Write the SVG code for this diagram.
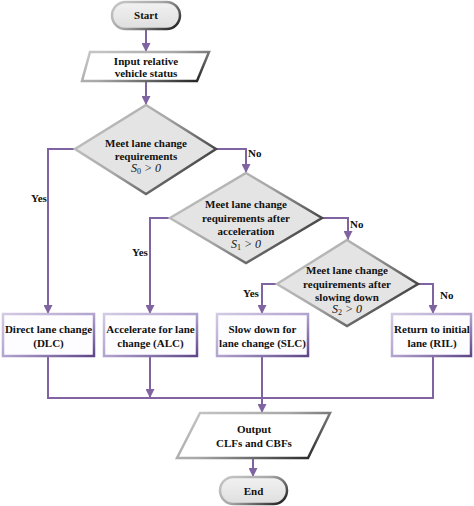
<svg xmlns="http://www.w3.org/2000/svg" width="474" height="506" viewBox="0 0 474 506">
<defs>
  <linearGradient id="gGray" x1="0" y1="0.2" x2="1" y2="0.8">
    <stop offset="0" stop-color="#c4c4c4"/>
    <stop offset="0.45" stop-color="#a8a8a8"/>
    <stop offset="1" stop-color="#2a2a2a"/>
  </linearGradient>
  <linearGradient id="gPurple" x1="0" y1="0" x2="1" y2="1">
    <stop offset="0" stop-color="#d3cae3"/>
    <stop offset="0.5" stop-color="#b3a4cf"/>
    <stop offset="1" stop-color="#5e4687"/>
  </linearGradient>
  <linearGradient id="gFill" x1="0" y1="0" x2="0" y2="1">
    <stop offset="0" stop-color="#f2f2f2"/>
    <stop offset="1" stop-color="#dedede"/>
  </linearGradient>
  <marker id="arr" markerUnits="userSpaceOnUse" markerWidth="9" markerHeight="9" refX="9" refY="4.5" orient="auto">
    <path d="M0,0 L9,4.5 L0,9 z" fill="#8064a2"/>
  </marker>
</defs>
<style>
  text { font-family: "Liberation Serif", "Times New Roman", serif; font-weight: bold; font-size: 11px; fill: #111; text-anchor: middle; }
  .lbl { text-anchor: start; }
  .term { fill: url(#gFill); stroke: url(#gGray); stroke-width: 2.5; }
  .dia { fill: #e4e4e4; stroke: url(#gGray); stroke-width: 2.5; }
  .para { fill: #ffffff; stroke: url(#gGray); stroke-width: 2.5; }
  .box { fill: #fdfcff; stroke: url(#gPurple); stroke-width: 2.5; }
  .con { fill: none; stroke: #8064a2; stroke-width: 2; }
  .math { font-style: italic; font-weight: normal; font-size: 12px; }
  .sub { font-style: normal; font-weight: normal; font-size: 8px; }
</style>

<g id="connectors">
  <path class="con" d="M146,29 V52" marker-end="url(#arr)"/>
  <path class="con" d="M146,81 V105" marker-end="url(#arr)"/>
  <path class="con" d="M75,149 H48 V314" marker-end="url(#arr)"/>
  <path class="con" d="M216,149 H246 V173" marker-end="url(#arr)"/>
  <path class="con" d="M170,218 H150 V314" marker-end="url(#arr)"/>
  <path class="con" d="M322,218 H348 V240" marker-end="url(#arr)"/>
  <path class="con" d="M277,284 H262 V314" marker-end="url(#arr)"/>
  <path class="con" d="M418,284 H433 V314" marker-end="url(#arr)"/>
  <path class="con" d="M48,356 V398 H433 V356"/>
  <path class="con" d="M150,356 V398" marker-end="url(#arr)"/>
  <path class="con" d="M262,356 V413" marker-end="url(#arr)"/>
  <path class="con" d="M253,458 V477" marker-end="url(#arr)"/>
  <text class="lbl" x="31" y="202">Yes</text>
  <text class="lbl" x="248" y="157">No</text>
  <text class="lbl" x="132" y="256">Yes</text>
  <text class="lbl" x="350" y="228">No</text>
  <text class="lbl" x="243" y="297">Yes</text>
  <text class="lbl" x="440" y="299">No</text>
</g>

<g id="start">
  <rect class="term" x="112" y="2" width="68" height="27" rx="13.5"/>
  <text x="146" y="19">Start</text>
</g>

<g id="input">
  <polygon class="para" points="90,52 209,52 197,81 82,81"/>
  <text x="146" y="65">Input relative</text>
  <text x="146" y="77">vehicle status</text>
</g>

<g id="decision1">
  <polygon class="dia" points="146,105 216,149 146,194 75,149"/>
  <text x="146" y="147">Meet lane change</text>
  <text x="146" y="160">requirements</text>
  <text x="146" y="172"><tspan class="math">S</tspan><tspan class="sub" dy="2">0</tspan><tspan class="math" dy="-2"> &gt; </tspan><tspan class="math" font-style="normal">0</tspan></text>
</g>

<g id="decision2">
  <polygon class="dia" points="246,173 322,218 246,263 170,218"/>
  <text x="246" y="208">Meet lane change</text>
  <text x="246" y="222">requirements after</text>
  <text x="246" y="235">acceleration</text>
  <text x="246" y="248"><tspan class="math">S</tspan><tspan class="sub" dy="2">1</tspan><tspan class="math" dy="-2"> &gt; </tspan><tspan class="math" font-style="normal">0</tspan></text>
</g>

<g id="decision3">
  <polygon class="dia" points="347,240 418,284 347,326 277,284"/>
  <text x="347" y="274">Meet lane change</text>
  <text x="347" y="288">requirements after</text>
  <text x="347" y="301">slowing down</text>
  <text x="347" y="313"><tspan class="math">S</tspan><tspan class="sub" dy="2">2</tspan><tspan class="math" dy="-2"> &gt; </tspan><tspan class="math" font-style="normal">0</tspan></text>
</g>

<g id="dlc">
  <rect class="box" x="3" y="314" width="91" height="42"/>
  <text x="48.5" y="333">Direct lane change</text>
  <text x="48.5" y="347">(DLC)</text>
</g>

<g id="alc">
  <rect class="box" x="104" y="314" width="93" height="42"/>
  <text x="150.5" y="333">Accelerate for lane</text>
  <text x="150.5" y="347">change (ALC)</text>
</g>

<g id="slc">
  <rect class="box" x="217" y="314" width="91" height="42"/>
  <text x="262.5" y="333">Slow down for</text>
  <text x="262.5" y="347">lane change (SLC)</text>
</g>

<g id="ril">
  <rect class="box" x="392" y="314" width="79" height="42"/>
  <text x="432" y="333">Return to initial</text>
  <text x="432" y="347">lane (RIL)</text>
</g>

<g id="output">
  <polygon class="para" points="200,413 330,413 308,458 177,458"/>
  <text x="254" y="433">Output</text>
  <text x="254" y="447">CLFs and CBFs</text>
</g>

<g id="end">
  <rect class="term" x="220" y="477" width="67" height="27" rx="13.5"/>
  <text x="253.5" y="495">End</text>
</g>
</svg>
